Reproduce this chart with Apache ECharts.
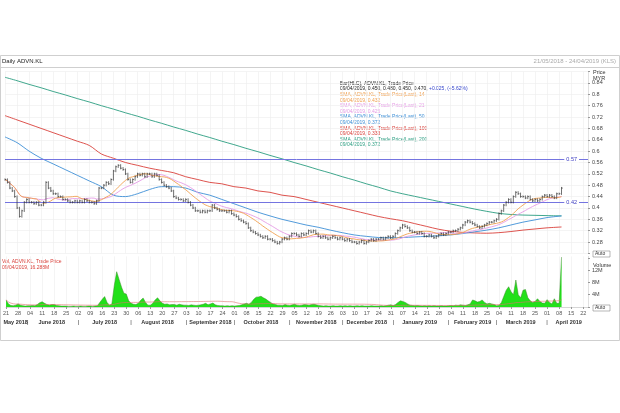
<!DOCTYPE html>
<html><head><meta charset="utf-8">
<script src="https://cdn.jsdelivr.net/npm/echarts@6/dist/echarts.min.js"></script>
<style>html,body{margin:0;padding:0;background:#fff}#c{width:620px;height:413px}</style>
</head><body><div id="c"></div>
<script>
// ---- DATA ----
const startDate = '2018-05-21', endDate = '2019-04-24';
// daily closes (Trade Price), 21/05/2018 .. 09/04/2019
const closes = [
0.50,0.49,0.47,0.46,0.44, 0.40,0.37,0.39,0.42,0.43, 0.42,0.42,0.415,0.42,0.41, 0.41,0.42,0.49,0.47,0.46,
0.45,0.45,0.44,0.44,0.43, 0.43,0.425,0.42,0.42,0.425, 0.42,0.425,0.42,0.43,0.425, 0.42,0.42,0.415,0.425,0.47,
0.47,0.48,0.49,0.485,0.50, 0.53,0.545,0.55,0.54,0.535, 0.52,0.50,0.49,0.50,0.51, 0.52,0.515,0.52,0.51,0.52,
0.52,0.51,0.52,0.515,0.50, 0.49,0.48,0.475,0.47,0.46, 0.44,0.435,0.43,0.43,0.425, 0.43,0.42,0.41,0.40,0.39,
0.39,0.385,0.39,0.385,0.39, 0.39,0.41,0.40,0.395,0.39, 0.39,0.39,0.385,0.39,0.38, 0.375,0.37,0.36,0.355,0.35,
0.345,0.33,0.32,0.315,0.31, 0.305,0.30,0.295,0.30,0.29, 0.29,0.285,0.28,0.275,0.28, 0.29,0.295,0.29,0.30,0.31,
0.31,0.305,0.30,0.31,0.305, 0.31,0.32,0.315,0.32,0.31, 0.30,0.295,0.30,0.295,0.29, 0.295,0.30,0.295,0.29,0.295,
0.29,0.285,0.29,0.285,0.28, 0.28,0.275,0.28,0.285,0.275, 0.28,0.285,0.29,0.285,0.29, 0.29,0.295,0.29,0.295,0.30,
0.295,0.30,0.31,0.32,0.33, 0.34,0.335,0.33,0.32,0.315, 0.315,0.31,0.315,0.31,0.30, 0.30,0.305,0.30,0.295,0.30,
0.305,0.31,0.305,0.31,0.315, 0.315,0.32,0.32,0.325,0.33, 0.34,0.35,0.355,0.35,0.345, 0.34,0.335,0.33,0.335,0.34,
0.345,0.35,0.35,0.355,0.36, 0.38,0.39,0.41,0.42,0.43, 0.42,0.44,0.455,0.45,0.44, 0.44,0.435,0.44,0.43,0.425,
0.43,0.425,0.43,0.44,0.445, 0.44,0.445,0.44,0.435,0.45, 0.45,0.47
];
// daily volume, millions
const volumes = [
2.3,1.0,0.5,0.4,0.6, 1.0,0.6,0.4,0.3,0.4, 0.4,0.5,0.4,0.8,1.4, 1.7,1.2,0.8,0.6,0.8,
0.8,0.5,0.4,0.3,0.3, 0.3,0.2,0.2,0.3,0.2, 0.2,0.3,0.2,0.2,0.3, 0.3,0.2,0.3,0.4,1.5,
2.5,3.4,1.5,0.6,1.0, 7.0,11.5,9.0,6.5,4.5, 4.2,2.0,1.2,0.9,0.8, 1.2,2.2,2.9,1.5,0.6,
0.6,1.2,2.3,3.0,2.0, 1.2,0.9,1.0,0.7,0.8, 0.8,0.6,0.9,0.7,0.6, 0.6,0.5,0.7,0.6,0.5,
0.6,0.7,0.9,1.2,0.7, 1.0,1.3,0.7,0.5,0.4, 0.4,0.3,0.4,0.3,0.4, 0.3,0.4,0.5,0.7,1.0,
1.2,0.9,1.5,2.5,3.2, 3.3,3.5,3.0,2.6,2.0, 1.5,1.0,0.8,0.6,0.6, 0.5,0.8,0.6,0.5,0.7,
0.9,0.6,0.5,0.6,0.8, 0.7,0.6,0.8,0.9,0.7, 0.5,0.4,0.3,0.4,0.3, 0.3,0.4,0.3,0.3,0.4,
0.3,0.4,0.3,0.4,0.3, 0.3,0.4,0.3,0.4,0.3, 0.3,0.3,0.4,0.3,0.3, 0.3,0.4,0.3,0.4,0.6,
0.7,0.5,0.8,1.5,2.0, 1.8,1.5,1.0,0.6,0.5, 0.4,0.5,0.4,0.3,0.4, 0.3,0.4,0.3,0.4,0.3,
0.3,0.4,0.3,0.3,0.4, 0.5,0.4,0.6,0.5,0.7, 0.6,0.5,0.7,1.0,2.3, 2.0,1.6,1.8,2.3,1.5,
1.0,1.2,1.0,0.8,0.4, 0.5,1.5,3.5,5.5,6.6, 5.0,4.0,8.8,4.0,3.0, 5.5,5.7,3.0,2.0,1.5,
1.8,2.7,1.8,1.3,1.2, 2.4,1.5,1.0,2.7,1.2, 1.2,16.288
];
// weekly readings (Monday of each week) of the long SMAs
const sma50w = [.65,.63,.60,.575,.555,.535,.515,.495,.475,.445,.44,.45,.465,.475,.475,.47,.455,.445,.43,.415,.40,.385,.372,.36,.35,.34,.332,.322,.313,.305,.30,.296,.295,.296,.298,.30,.302,.305,.31,.316,.322,.33,.34,.35,.358,.366,.372];
const sma100w = [.725,.71,.695,.68,.665,.65,.635,.62,.59,.575,.56,.55,.54,.532,.524,.51,.50,.49,.485,.475,.47,.46,.455,.445,.44,.43,.42,.41,.40,.39,.38,.37,.362,.355,.345,.335,.325,.318,.314,.312,.311,.313,.317,.322,.326,.330,.333];
const sma200w = [.860,.848,.835,.823,.810,.798,.785,.773,.760,.748,.735,.723,.710,.698,.685,.673,.660,.648,.635,.623,.610,.598,.585,.573,.560,.548,.535,.523,.510,.498,.485,.473,.460,.450,.441,.432,.423,.414,.405,.396,.388,.381,.377,.375,.374,.373,.372];
const priceTicks = [0.28,0.32,0.36,0.4,0.44,0.48,0.52,0.56,0.6,0.64,0.68,0.72,0.76,0.8,0.84];
const volTicks = [4,8,12];
const levels = [0.57, 0.42];
const legendLines = [
 ['Bar(HLC), ADVN.KL, Trade Price','#222'],
 ['09/04/2019, 0.450, 0.480, 0.450, 0.470, ','#222','+0.025, (+5.62%)','#3344cc'],
 ['SMA, ADVN.KL, Trade Price(Last), 14','#f0a050'],['09/04/2019, 0.432','#f0a050'],
 ['SMA, ADVN.KL, Trade Price(Last), 21','#e59be5'],['09/04/2019, 0.425','#e59be5'],
 ['SMA, ADVN.KL, Trade Price(Last), 50','#3d8fd6'],['09/04/2019, 0.372','#3d8fd6'],
 ['SMA, ADVN.KL, Trade Price(Last), 100','#d9403a'],['09/04/2019, 0.333','#d9403a'],
 ['SMA, ADVN.KL, Trade Price(Last), 200','#2a9d80'],['09/04/2019, 0.372','#2a9d80']
];
const monthNames = ['January','February','March','April','May','June','July','August','September','October','November','December'];

// ---- build ----
const dates = [];
for (let d = new Date(startDate+'T00:00:00Z'); d <= new Date(endDate+'T00:00:00Z'); d.setUTCDate(d.getUTCDate()+1)) {
  const wd = d.getUTCDay(); if (wd===0||wd===6) continue;
  dates.push(new Date(d.getTime()));
}
const cats = dates.map(d=>d.toISOString().slice(0,10));
const N = cats.length;
function sma(arr,n){return arr.map((v,i)=>{const s=arr.slice(Math.max(0,i-n+1),i+1);return +(s.reduce((a,b)=>a+b,0)/s.length).toFixed(4);});}
const sma14 = sma(closes,14), sma21 = sma(closes,21);
const volMA = sma(volumes,50);
function weekly(arr){const out=new Array(N).fill(null);arr.forEach((v,w)=>{const i=Math.min(w*5,closes.length-1);out[w===arr.length-1?closes.length-1:i]=v;});return out;}
const hlc = closes.map((c,i)=>{const p=i?closes[i-1]:c;return [i,Math.max(p,c)+0.004,Math.min(p,c)-0.004,c];});
const isMon = i=>dates[i].getUTCDay()===1;
const monthMid = {};
dates.forEach((d,i)=>{const k=d.getUTCFullYear()*12+d.getUTCMonth();(monthMid[k]=monthMid[k]||[]).push(i);});
const midIdx = new Set(), sepIdx = new Set();
Object.values(monthMid).forEach(a=>{midIdx.add(a[Math.floor(a.length/2)]); if(a[0]>0) sepIdx.add(a[0]);});
const FONT = 'Liberation Sans';
const vLines = {type:'solid',color:'#ececec',width:0.6};
const chart = echarts.init(document.getElementById('c'));
const gridL = 5, gridR = 32;
const graphics = [
 {type:'rect',shape:{x:0.5,y:55.5,width:619,height:285},style:{fill:null,stroke:'#cfcfcf',lineWidth:1},silent:true},
 {type:'line',shape:{x1:0,y1:67.5,x2:620,y2:67.5},style:{stroke:'#cfcfcf',lineWidth:1}},
 {type:'text',left:2,top:58,style:{text:'Daily ADVN.KL',fontSize:6,fontFamily:FONT,fill:'#222'}},
 {type:'text',right:4,top:58,style:{text:'21/05/2018 - 24/04/2019 (KLS)',fontSize:6,fontFamily:FONT,fill:'#aaa'}},
 {type:'text',left:593,top:69,style:{text:'Price\nMYR',fontSize:5.5,lineHeight:6,fontFamily:FONT,fill:'#333'}},
 {type:'text',left:593,top:262,style:{text:'Volume',fontSize:5.5,fontFamily:FONT,fill:'#333'}},
 {type:'text',left:2,top:259,style:{text:'Vol, ADVN.KL, Trade Price\n09/04/2019, 16.288M',fontSize:5,lineHeight:6,fontFamily:FONT,fill:'#d9403a'}},
 {type:'rect',shape:{x:593,y:251,width:17,height:6},style:{fill:'#fff',stroke:'#888',lineWidth:0.6}},
 {type:'text',left:595,top:251.5,style:{text:'Auto',fontSize:5,fontFamily:FONT,fill:'#333'}},
 {type:'rect',shape:{x:593,y:305,width:17,height:6},style:{fill:'#fff',stroke:'#888',lineWidth:0.6}},
 {type:'text',left:595,top:305.5,style:{text:'Auto',fontSize:5,fontFamily:FONT,fill:'#333'}}
];
legendLines.forEach((l,i)=>{
  const t = l.length>2 ? {text:'{a|'+l[0]+'}{b|'+l[2]+'}',rich:{a:{fill:l[1],fontSize:5,fontFamily:FONT},b:{fill:l[3],fontSize:5,fontFamily:FONT}},fontSize:5}
                       : {text:l[0],fill:l[1],fontSize:5,fontFamily:FONT};
  graphics.push({type:'text',left:340,top:81+i*5.6,style:t});
});
const lineS = (name,data,color,conn)=>({name,type:'line',data,xAxisIndex:0,yAxisIndex:0,showSymbol:false,connectNulls:!!conn,smooth:conn?0.3:false,lineStyle:{color,width:0.9},z:3,silent:true});
const levelSeries = levels.map((v,k)=>({name:'level'+k,type:'line',data:[],xAxisIndex:0,yAxisIndex:0,color:'#7474e0',z:4,
  markLine:{symbol:'none',silent:true,lineStyle:{color:'#7474e0',width:1,type:'solid',opacity:1},
    label:{show:true,position:'insideEnd',fontSize:5.5,color:'#3a3ac0',backgroundColor:'#fff',padding:[0,2],distance:[9,-3],formatter:v.toFixed(2)},
    data:[{yAxis:v}]}}));
chart.setOption({
  animation:false,
  textStyle:{fontFamily:FONT},
  graphic:graphics,
  grid:[{left:gridL,right:gridR,top:71.6,height:181.8},{left:gridL,right:gridR,top:256.4,height:50.6}],
  xAxis:[
   {type:'category',gridIndex:0,data:cats,boundaryGap:false,axisLine:{show:false},axisTick:{show:false},axisLabel:{show:false},
    splitLine:{show:true,interval:(i)=>isMon(i),lineStyle:vLines}},
   {type:'category',gridIndex:1,data:cats,boundaryGap:false,axisLine:{lineStyle:{color:'#bbb',width:0.6}},
    axisTick:{show:true,interval:(i)=>isMon(i),length:2,lineStyle:{color:'#999'}},
    splitLine:{show:true,interval:(i)=>isMon(i),lineStyle:vLines},
    axisLabel:{interval:(i)=>isMon(i),fontSize:5.5,color:'#555',margin:3,formatter:(v)=>v.slice(8,10)}},
   {type:'category',gridIndex:1,data:cats,boundaryGap:false,position:'bottom',offset:9,axisLine:{show:false},axisTick:{show:false},
    axisLabel:{interval:(i)=>midIdx.has(i),fontSize:5.5,fontWeight:'bold',color:'#333',margin:3,
      formatter:(v)=>{const d=new Date(v+'T00:00:00Z');return monthNames[d.getUTCMonth()]+' '+d.getUTCFullYear();}}},
   {type:'category',gridIndex:1,data:cats,boundaryGap:false,position:'bottom',offset:9,axisLine:{show:false},axisTick:{show:false},
    axisLabel:{interval:(i)=>sepIdx.has(i),fontSize:6,color:'#333',margin:3,formatter:()=>'|'}}
  ],
  yAxis:[
   {type:'value',gridIndex:0,position:'right',min:0.24,max:0.88,interval:0.04,axisLine:{show:true,lineStyle:{color:'#ccc',width:0.6}},
    axisTick:{show:true,length:2,lineStyle:{color:'#999'}},splitLine:{lineStyle:{color:'#ececec',width:0.6}},
    axisLabel:{fontSize:5.5,color:'#444',margin:4,formatter:(v)=>{const r=Math.round(v*100)/100;return priceTicks.some(t=>Math.abs(t-r)<1e-6)?String(r):'';}}},
   {type:'value',gridIndex:1,position:'right',min:0,max:16.5,interval:4,axisLine:{show:true,lineStyle:{color:'#ccc',width:0.6}},
    axisTick:{show:true,length:2,lineStyle:{color:'#999'}},splitLine:{show:false},
    axisLabel:{fontSize:5.5,color:'#444',margin:4,showMaxLabel:false,formatter:(v)=>volTicks.includes(v)?v+'M':''}}
  ],
  series:[
   lineS('SMA200',weekly(sma200w),'#2a9d80',true),
   lineS('SMA100',weekly(sma100w),'#d9403a',true),
   lineS('SMA50',weekly(sma50w),'#3d8fd6',true),
   lineS('SMA21',sma21,'#e59be5'),
   lineS('SMA14',sma14,'#f0a050'),
   ...levelSeries,
   {name:'HLC',type:'custom',xAxisIndex:0,yAxisIndex:0,data:hlc,z:5,silent:true,
    renderItem:(params,api)=>{const x=api.value(0);const h=api.coord([x,api.value(1)]),l=api.coord([x,api.value(2)]),c=api.coord([x,api.value(3)]);
      return {type:'group',children:[
        {type:'line',shape:{x1:h[0],y1:h[1],x2:l[0],y2:l[1]},style:{stroke:'#333',lineWidth:0.7}},
        {type:'line',shape:{x1:c[0],y1:c[1],x2:c[0]+1.3,y2:c[1]},style:{stroke:'#333',lineWidth:0.7}}]};}},
   {name:'Volume',type:'line',xAxisIndex:1,yAxisIndex:1,data:volumes,showSymbol:false,
    lineStyle:{color:'#3a8a2a',width:0.5},areaStyle:{color:'#22e01a',opacity:1}},
   {name:'VolMA',type:'line',xAxisIndex:1,yAxisIndex:1,data:volMA,showSymbol:false,lineStyle:{color:'#e07070',width:0.6}}
  ]
});
</script></body></html>
